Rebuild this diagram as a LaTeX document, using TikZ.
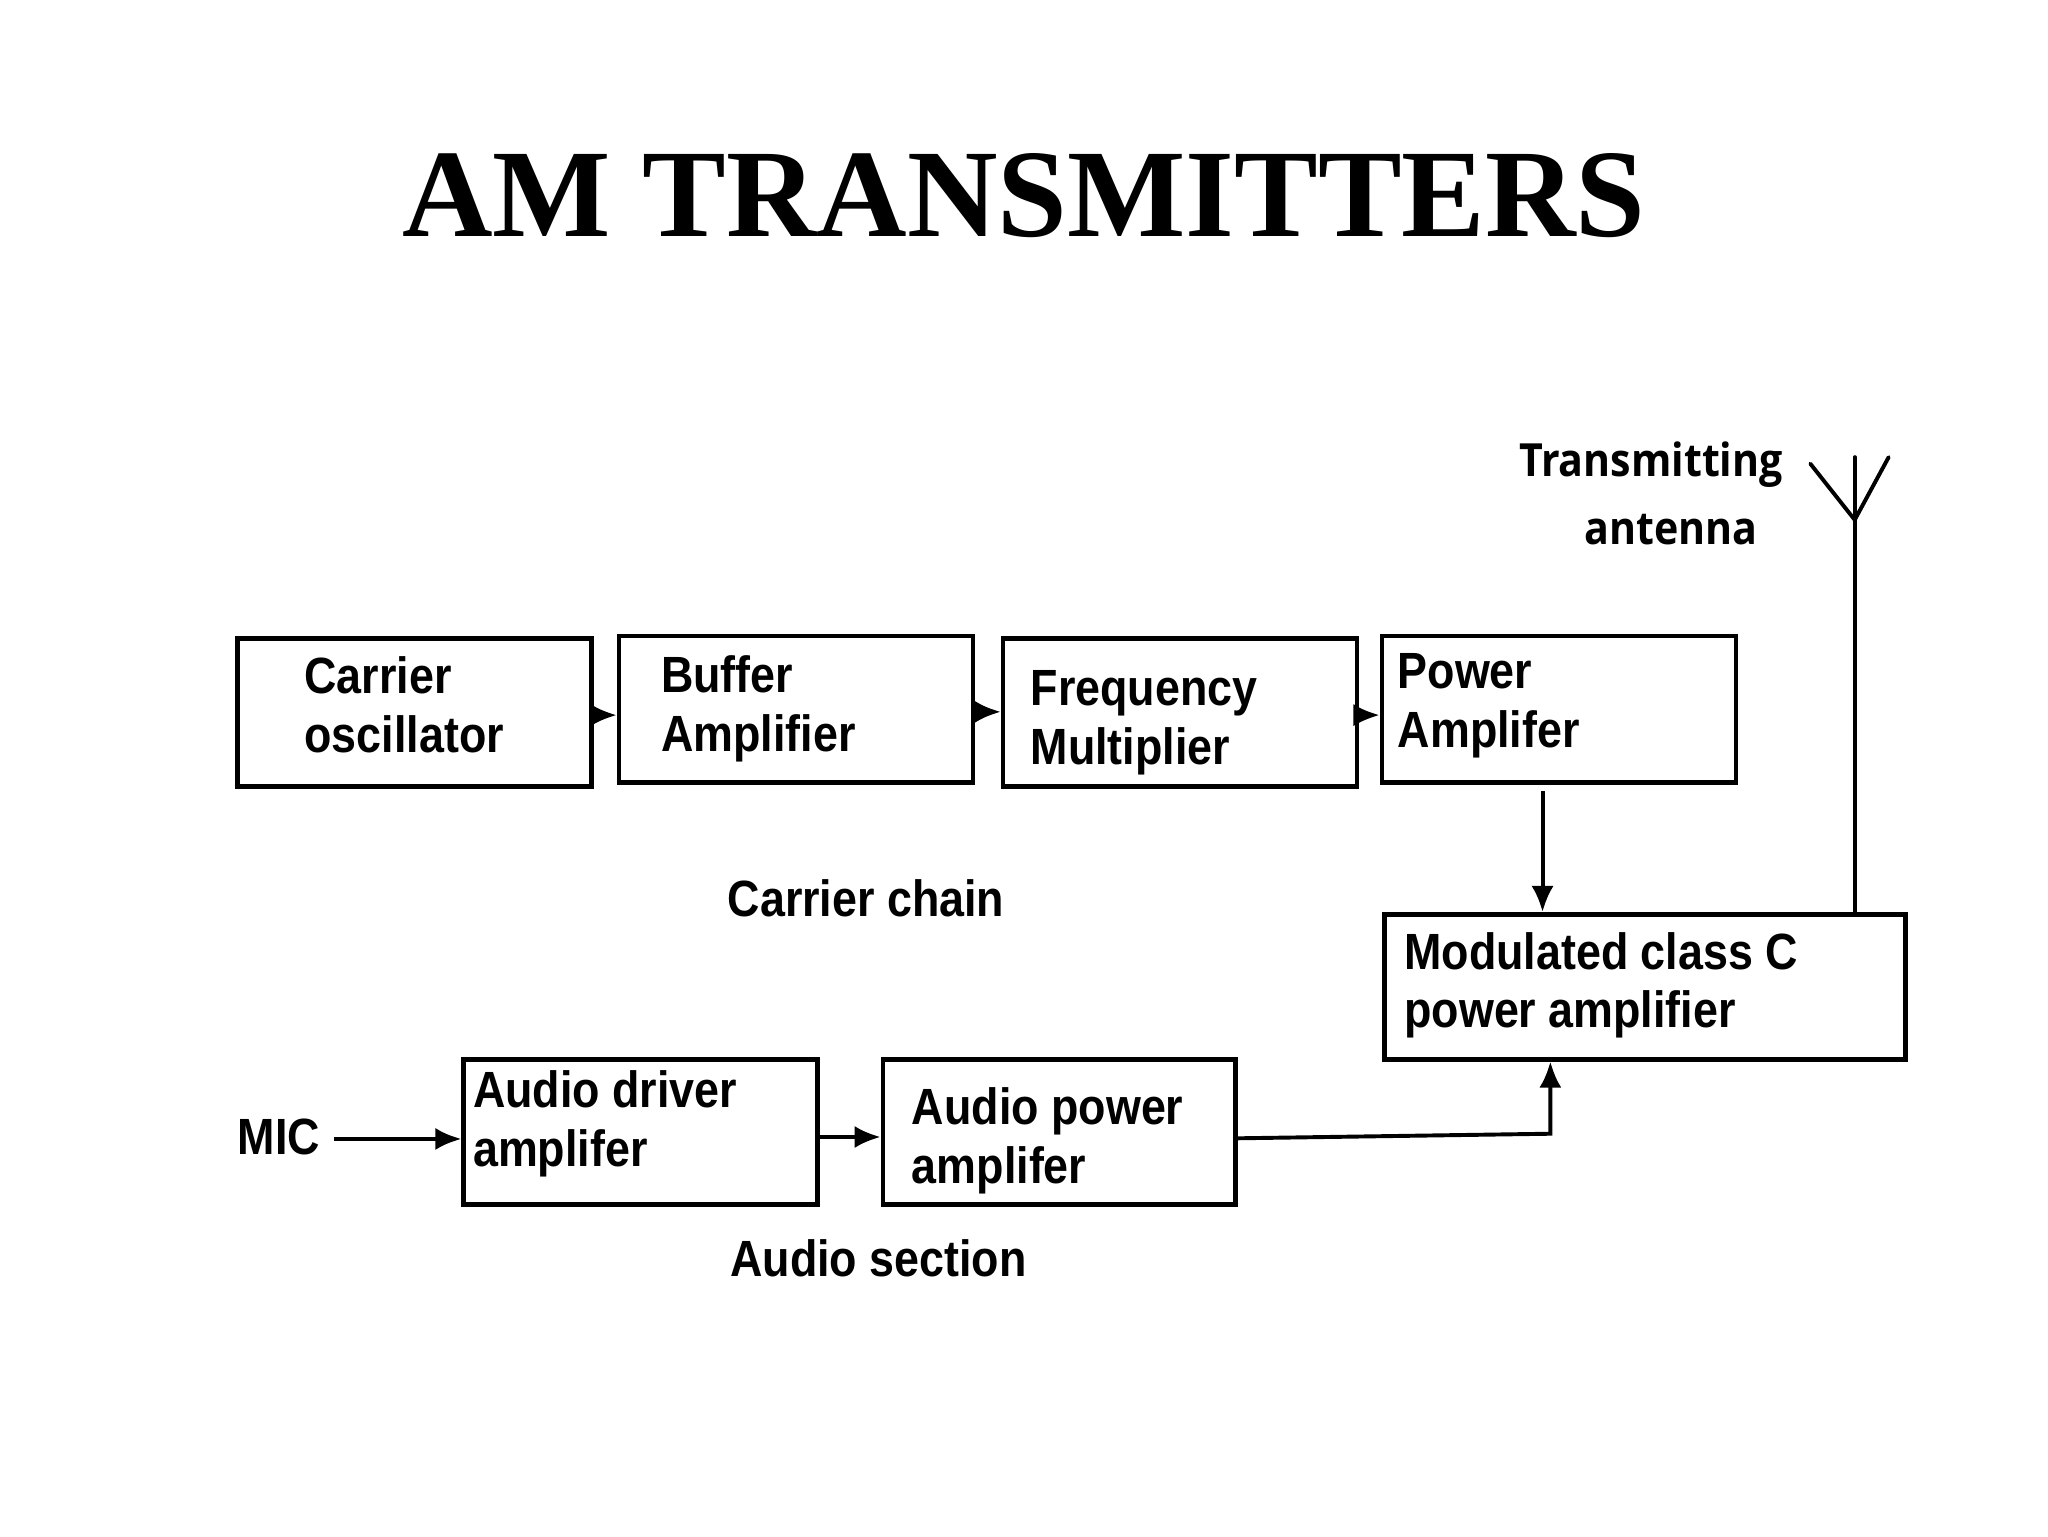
\documentclass[tikz,border=0pt]{standalone}
\usepackage{fontspec}
\setmainfont{Liberation Serif}
\newfontfamily\boxfont[FakeStretch=0.88]{Liberation Sans Bold}
\newfontfamily\antfont[FakeStretch=0.9]{Open Sans Bold}
\usetikzlibrary{arrows.meta}
\begin{document}
\begin{tikzpicture}[x=1pt,y=-1pt,
  box/.style={draw, line width=3.5pt, inner sep=0pt},
  lbl/.style={anchor=base west, inner sep=0pt, align=left,
    font=\boxfont\fontsize{39}{45}\selectfont},
  alb/.style={anchor=base west, inner sep=0pt,
    font=\antfont\fontsize{35}{35}\selectfont},
  conn/.style={line width=3pt, -{Latex[length=20pt,width=17pt]}},
  wire/.style={line width=3pt, line cap=round}]
\useasboundingbox[fill=white] (0,0) rectangle (1568,1176);

% title
\node[anchor=base, inner sep=0pt, font=\bfseries\fontsize{96}{96}\selectfont] (title) at (784,181) {AM TRANSMITTERS};

% boxes
\node[box, minimum width=271pt, minimum height=113pt] (co) at (317.5,545.5) {};
\node[box, minimum width=271pt, minimum height=112pt] (ba) at (609.5,543) {};
\node[box, minimum width=271pt, minimum height=113pt] (fm) at (903.5,545.5) {};
\node[box, minimum width=271pt, minimum height=112pt] (pa) at (1193.5,543) {};
\node[box, minimum width=399pt, minimum height=111pt] (mc) at (1259.5,755.5) {};
\node[box, minimum width=271pt, minimum height=111pt] (ad) at (490.5,866.5) {};
\node[box, minimum width=270pt, minimum height=111pt] (ap) at (811,866.5) {};

% box texts (anchor = baseline of the last line)
\node[lbl] (coT) at (233,576) {Carrier\\oscillator};
\node[lbl] (baT) at (506,575) {Buffer\\Amplifier};
\node[lbl] (fmT) at (789,585) {Frequency\\Multiplier};
\node[lbl] (paT) at (1070,572) {Power\\Amplifer};
\node[lbl] (mcT) at (1075,787) {Modulated class C\\power amplifier};
\node[lbl] (adT) at (362,893) {Audio driver\\amplifer};
\node[lbl] (apT) at (698,906) {Audio power\\amplifer};

% free labels
\node[lbl] (mic) at (182,884) {MIC};
\node[lbl] (cc) at (557,702) {Carrier chain};
\node[lbl] (as) at (559,977) {Audio section};
\node[alb] (tx) at (1163,365) {Transmitting};
\node[alb] (ant) at (1213,417) {antenna};

% connectors carrier chain
\draw[conn] ([yshift=-2pt]co.east) -- ([yshift=-2pt]co.east -| ba.west);
\draw[conn] ([yshift=-2pt]ba.east) -- ([yshift=-2pt]ba.east -| fm.west);
\draw[conn] ([yshift=-2pt]fm.east) -- ([yshift=-2pt]fm.east -| pa.west);
\draw[conn, shorten <=5pt] ([xshift=-12.5pt]pa.south) -- ([xshift=-12.5pt]pa.south |- mc.north);

% audio section
\coordinate (micE) at (256,872);
\draw[conn] (micE) -- (micE -| ad.west);
\draw[conn] ([yshift=-4pt]ad.east) -- ([yshift=-4pt]ad.east -| ap.west);
\coordinate (bend) at (1187,868);
\draw[conn] ([yshift=-5pt]ap.east) -- (bend) -- (bend |- mc.south);

% antenna
\coordinate (apex) at (1420,398);
\coordinate (atop) at (1420,350);
\coordinate (armL) at (1386,355);
\coordinate (armR) at (1446,350);
\draw[wire] (apex |- mc.north) -- (atop);
\draw[wire] (armL) -- (apex) -- (armR);
\end{tikzpicture}
\end{document}
